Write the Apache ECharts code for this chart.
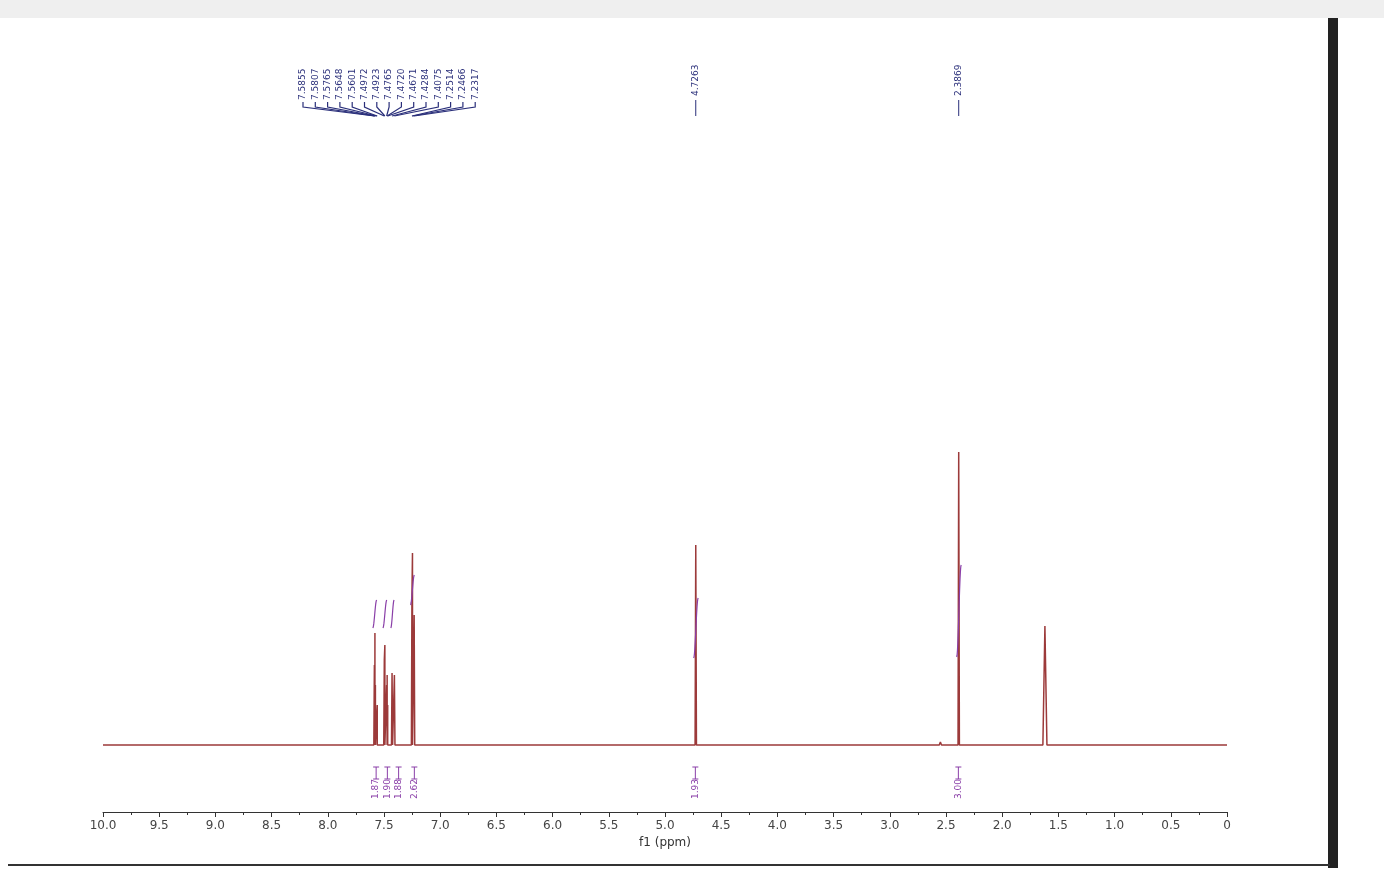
<!DOCTYPE html>
<html>
<head>
<meta charset="utf-8">
<script src="https://cdn.jsdelivr.net/npm/echarts@6/dist/echarts.min.js"></script>
<style>
  html, body { margin: 0; padding: 0; background: #fff; }
  #chart { width: 1384px; height: 880px; }
</style>
</head>
<body>
<div id="chart"></div>
<script>
// peak positions (ppm) and heights (px above baseline)
var peakShift = [7.5855, 7.5807, 7.5765, 7.5648, 7.5601, 7.4972, 7.4923, 7.4765, 7.4720, 7.4671,
  7.4284, 7.4075, 7.2514, 7.2466, 7.2317, 4.7263, 2.3869, 1.62, 2.55, 4.62, 0.02];
var peakHeight = [80, 112, 60, 30, 40, 85, 100, 60, 70, 40,
  72, 70, 150, 192, 130, 200, 293, 119, 3, 2, 2];
var peakWidth = [0.005, 0.005, 0.005, 0.005, 0.005, 0.005, 0.005, 0.005, 0.005, 0.005,
  0.005, 0.005, 0.005, 0.005, 0.005, 0.006, 0.006, 0.018, 0.01, 0.01, 0.01];

// labelled peaks along the top
var labelShift = [7.5855, 7.5807, 7.5765, 7.5648, 7.5601, 7.4972, 7.4923, 7.4765, 7.4720, 7.4671,
  7.4284, 7.4075, 7.2514, 7.2466, 7.2317];
var singleLabels = [4.7263, 2.3869];

// integrals: from, to (ppm), low, high (px above baseline), value
var intFrom = [7.60, 7.51, 7.44, 7.265, 4.745, 2.405];
var intTo = [7.565, 7.475, 7.41, 7.23, 4.705, 2.365];
var intLow = [117, 117, 117, 140, 87, 88];
var intHigh = [145, 145, 145, 170, 147, 180];
var intValue = ['1.87', '1.90', '1.88', '2.62', '1.93', '3.00'];
var intLabelAt = [7.57, 7.47, 7.37, 7.23, 4.73, 2.39];

// spectrum line built from the peak list
var pts = [[10, 0], [0, 0]];
for (var i = 0; i < peakShift.length; i++) {
  pts.push([peakShift[i] + peakWidth[i], 0]);
  pts.push([peakShift[i], peakHeight[i]]);
  pts.push([peakShift[i] - peakWidth[i], 0]);
}
pts.sort(function (a, b) { return b[0] - a[0]; });

var chart = echarts.init(document.getElementById('chart'));
var option = {
  animation: false,
  grid: { left: 103, right: 157, top: 20, bottom: 68 },
  xAxis: {
    type: 'value', inverse: true, min: 0, max: 10, interval: 0.5,
    name: 'f1 (ppm)', nameLocation: 'middle', nameGap: 24,
    nameTextStyle: { color: '#333', fontSize: 12, fontFamily: 'DejaVu Sans' },
    axisLine: { onZero: false, lineStyle: { color: '#333', width: 1 } },
    axisTick: { length: 5, lineStyle: { color: '#333' } },
    minorTick: { show: true, splitNumber: 2, length: 3, lineStyle: { color: '#333' } },
    splitLine: { show: false },
    axisLabel: { color: '#444', fontSize: 12, fontFamily: 'DejaVu Sans', margin: 8,
      formatter: function (v) { return v === 0 ? '0' : v.toFixed(1); } }
  },
  yAxis: { type: 'value', min: -67, max: 725, show: false },
  series: [{
    type: 'line', data: pts, symbol: 'none',
    lineStyle: { color: '#9c3a3a', width: 1.5 }, z: 3
  }, {
    type: 'custom', data: intFrom.map(function (f, i) { return i; }), z: 4,
    renderItem: function (params, api) {
      var i = api.value(0);
      var children = [];
      var n = 12, points = [];
      for (var k = 0; k <= n; k++) {
        var t = k / n;
        var s = (1 - Math.cos(Math.PI * t)) / 2;
        points.push(api.coord([intFrom[i] + (intTo[i] - intFrom[i]) * t, intLow[i] + (intHigh[i] - intLow[i]) * s]));
      }
      children.push({ type: 'polyline', shape: { points: points }, style: { stroke: '#8a3fa8', lineWidth: 1.2, fill: null } });
      var p = api.coord([intLabelAt[i], 0]);
      var x = p[0];
      children.push({ type: 'line', shape: { x1: x, y1: p[1] + 22, x2: x, y2: p[1] + 34 }, style: { stroke: '#8a3fa8', lineWidth: 1 } });
      children.push({ type: 'line', shape: { x1: x - 3, y1: p[1] + 22, x2: x + 3, y2: p[1] + 22 }, style: { stroke: '#8a3fa8', lineWidth: 1 } });
      children.push({ type: 'line', shape: { x1: x - 3, y1: p[1] + 34, x2: x + 3, y2: p[1] + 34 }, style: { stroke: '#8a3fa8', lineWidth: 1 } });
      children.push({ type: 'text', x: x, y: p[1] + 54, rotation: Math.PI / 2,
        style: { text: intValue[i], fill: '#8a3fa8', font: '9px DejaVu Sans', align: 'left', verticalAlign: 'middle' } });
      return { type: 'group', children: children };
    }
  }, {
    type: 'custom', data: [0], z: 4,
    renderItem: function (params, api) {
      var children = [];
      var color = '#2a2f7a';
      var n = labelShift.length;
      var leftX = 303, step = 12.3;
      for (var i = 0; i < n; i++) {
        var lx = leftX + i * step;
        var p = api.coord([labelShift[i], 0]);
        children.push({ type: 'text', x: lx, y: 100, rotation: Math.PI / 2,
          style: { text: labelShift[i].toFixed(4), fill: color, font: '9px DejaVu Sans', align: 'left', verticalAlign: 'middle' } });
        children.push({ type: 'polyline', shape: { points: [[lx, 102], [lx, 107], [p[0], 116]] },
          style: { stroke: color, lineWidth: 1.2, fill: null } });
      }
      for (var j = 0; j < singleLabels.length; j++) {
        var q = api.coord([singleLabels[j], 0]);
        children.push({ type: 'text', x: q[0], y: 96, rotation: Math.PI / 2,
          style: { text: singleLabels[j].toFixed(4), fill: color, font: '9px DejaVu Sans', align: 'left', verticalAlign: 'middle' } });
        children.push({ type: 'line', shape: { x1: q[0], y1: 100, x2: q[0], y2: 116 }, style: { stroke: color, lineWidth: 1 } });
      }
      return { type: 'group', children: children };
    }
  }],
  graphic: [
    { type: 'rect', left: 0, top: 0, shape: { width: 1384, height: 18 }, style: { fill: '#efefef' } },
    { type: 'rect', left: 1328, top: 18, shape: { width: 10, height: 850 }, style: { fill: '#222' } },
    { type: 'rect', left: 8, top: 864, shape: { width: 1322, height: 2 }, style: { fill: '#333' } }
  ]
};
chart.setOption(option);
</script>
</body>
</html>
